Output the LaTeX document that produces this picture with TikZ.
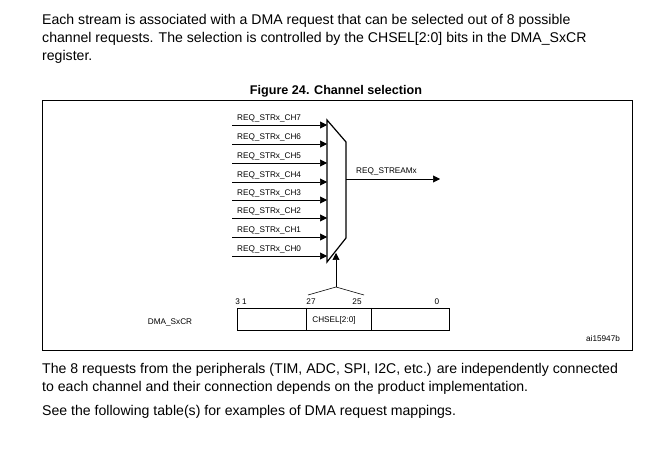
\documentclass[tikz,border=0pt]{standalone}
\usepackage{fontspec}
\setmainfont{Liberation Sans}
\usetikzlibrary{arrows.meta}
\begin{document}
\begin{tikzpicture}[x=1pt,y=-1pt,
  body/.style={anchor=west,inner sep=0,font=\fontsize{14.1}{16}\selectfont},
  small/.style={inner sep=0,font=\fontsize{8.2}{9}\selectfont},
  arr/.style={-{Triangle[length=7pt,width=7pt]},line width=0.6pt}]
\useasboundingbox (0,0) rectangle (672,462);
\node[body] (t1) at (42,21) {Each stream is associated with a DMA request that can be selected out of 8 possible};
\node[body] (t2) at (42,39) {channel requests. The selection is controlled by the CHSEL[2:0] bits in the DMA\_SxCR};
\node[body] (t3) at (42,57) {register.};
\node[inner sep=0,font=\bfseries\fontsize{12.6}{14}\selectfont] (title) at (336,91) {Figure 24. Channel selection};
\draw[line width=0.6pt] (42,100) rectangle (632,350);
% mux
\draw[line width=1.2pt] (327,120) -- (346,142) -- (346,238) -- (327,262) -- cycle;
\foreach \y/\c in {125/7,144/6,163/5,182/4,200/3,218/2,237/1,256/0}{
  \coordinate (s\c) at (232,\y);
  \coordinate (e\c) at (327,\y);
  \draw[arr] (s\c) -- (e\c);
  \node[small,anchor=south west] (l\c) at (237,\y-3) {REQ\_STRx\_CH\c};
}
\coordinate (o1) at (346,179);
\coordinate (o2) at (440,179);
\draw[arr] (o1) -- (o2);
\node[small,anchor=south west] (lo) at (356,175) {REQ\_STREAMx};
% select
\coordinate (b1) at (308,295);
\coordinate (b2) at (336,287);
\coordinate (b3) at (364,295);
\coordinate (sel) at (336,253);
\draw[line width=0.6pt] (b1) -- (b2) -- (b3);
\draw[arr] (b2) -- (sel);
% register
\draw[line width=0.8pt] (237,308) rectangle (449,330);
\draw[line width=0.8pt] (306,308) -- (306,330) (371,308) -- (371,330);
\node[small] (chsel) at (334,320) {CHSEL[2:0]};
\node[small] (n31) at (241,302) {3 1};
\node[small] (n27) at (311,302) {27};
\node[small] (n25) at (357,302) {25};
\node[small] (n0) at (437,302) {0};
\node[small] (dma) at (170,322) {DMA\_SxCR};
\node[small] (ai) at (603,339) {ai15947b};
\node[body] (b1t) at (42,370) {The 8 requests from the peripherals (TIM, ADC, SPI, I2C, etc.) are independently connected};
\node[body] (b2t) at (42,388) {to each channel and their connection depends on the product implementation.};
\node[body] (b3t) at (42,412) {See the following table(s) for examples of DMA request mappings.};
\end{tikzpicture}
\end{document}
